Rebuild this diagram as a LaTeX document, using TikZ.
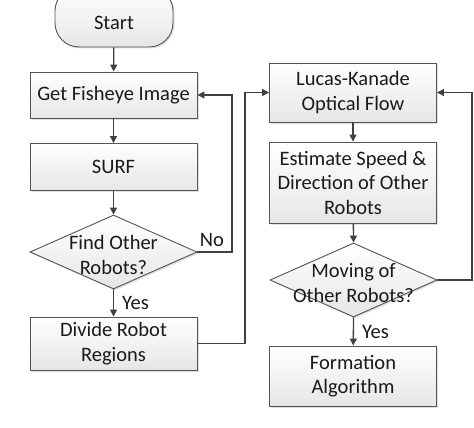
\documentclass[tikz,border=0pt]{standalone}
\usepackage{fontspec}
\setmainfont{Carlito}
\usetikzlibrary{arrows.meta,shapes.geometric,shadows,calc}
\definecolor{boxline}{HTML}{555555}
\definecolor{boxfill}{HTML}{E6E6E6}
\definecolor{arrowc}{HTML}{404040}
\definecolor{txt}{HTML}{1A1A1A}
\begin{document}
\begin{tikzpicture}[x=1pt,y=-1pt,
  base/.style={draw=boxline, line width=0.9pt, top color=white, bottom color=boxfill,
    inner sep=0pt, align=center, text=txt, font=\fontsize{20.5}{24.5}\selectfont,
    drop shadow={shadow xshift=1.5pt, shadow yshift=-1.5pt, opacity=0.25}},
  box/.style={base, rectangle, minimum width=167pt},
  term/.style={base, rectangle, rounded corners=24pt, minimum width=118pt, minimum height=60pt},
  dia/.style={base, diamond, minimum width=167pt, minimum height=74pt},
  dtext/.style={align=center, text=txt, font=\fontsize{20.5}{24.5}\selectfont, inner sep=0pt},
  lbl/.style={text=txt, font=\fontsize{20.5}{24.5}\selectfont, inner sep=0pt},
  arr/.style={draw=arrowc, line width=1.3pt, -{Triangle[length=7pt,width=7pt]}}]
\useasboundingbox (0,0) rectangle (474,428);
\fill[white] (0,0) rectangle (474,428);
% left column
\node[term] (start) at (114,17) {};
\node[dtext] (startt) at (114,23) {Start};
\node[box, minimum height=46pt] (get) at (113.5,95) {Get Fisheye Image};
\node[box, minimum height=47pt] (surf) at (113.5,167) {SURF};
\node[dia] (find) at (113.5,252) {};
\node[dtext] (findt) at (113.5,255) {Find Other\\Robots?};
\node[box, minimum height=53pt] (divide) at (113.5,343.5) {Divide Robot\\Regions};
% right column
\node[box, minimum height=59pt] (lucas) at (353,92.5) {Lucas-Kanade\\Optical Flow};
\node[box, minimum height=81pt] (est) at (353,182.5) {Estimate Speed \&\\Direction of Other\\Robots};
\node[dia] (move) at (353.5,280) {};
\node[dtext] (movet) at (353.5,283) {Moving of\\Other Robots?};
\node[box, minimum height=60pt] (form) at (353,376) {Formation\\Algorithm};
% corner coordinates
\coordinate (c1) at (232,252);
\coordinate (c2) at (232,95);
\coordinate (c3) at (245,343.5);
\coordinate (c4) at (245,92.5);
\coordinate (c5) at (472,280);
\coordinate (c6) at (472,92.5);
% arrows
\draw[arr] (start) -- (get);
\draw[arr] (get) -- (surf);
\draw[arr] (surf) -- (find.north);
\draw[arr] (find.south) -- node[lbl, anchor=west, xshift=8pt] (yes1) {Yes} (divide);
\draw[arr] (find.east) -- (c1) -- (c2) -- (get.east);
\node[lbl] (no) at (212,240) {No};
\draw[arr] (divide.east) -- (c3) -- (c4) -- (lucas.west);
\draw[arr] (lucas) -- (est);
\draw[arr] (est) -- (move.north);
\draw[arr] (move.south) -- node[lbl, anchor=west, xshift=8pt] (yes2) {Yes} (form);
\draw[arr] (move.east) -- (c5) -- (c6) -- (lucas.east);
\end{tikzpicture}
\end{document}
